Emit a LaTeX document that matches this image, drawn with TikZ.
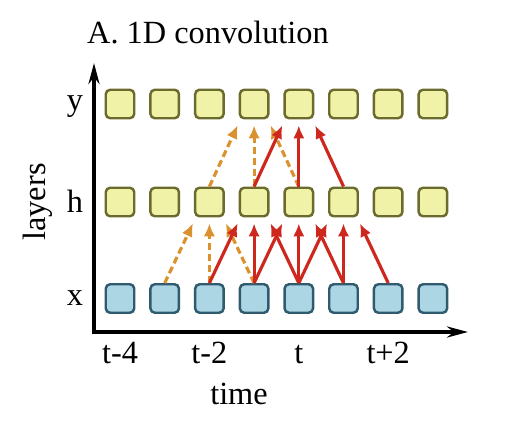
\documentclass[tikz,border=0pt]{standalone}
\usepackage{fontspec}
\setmainfont{Liberation Serif}
\usepackage{xcolor}
\usetikzlibrary{arrows.meta}

\definecolor{hfill}{RGB}{240,242,168}
\definecolor{hdraw}{RGB}{107,107,46}
\definecolor{xfill}{RGB}{173,214,229}
\definecolor{xdraw}{RGB}{48,90,110}
\definecolor{convred}{RGB}{206,40,30}
\definecolor{convorange}{RGB}{218,145,46}

\begin{document}
\begin{tikzpicture}[
    unit/.style={draw=hdraw, fill=hfill, line width=1.4pt, rounded corners=2.5pt, minimum size=0.57cm, inner sep=0pt},
    inunit/.style={unit, draw=xdraw, fill=xfill},
    lbl/.style={font=\fontsize{18.4}{22}\selectfont},
    axis/.style={line width=2.2pt, {Stealth[length=4.2mm,width=2.2mm]}-{Stealth[length=4.2mm,width=2.2mm]}},
    conv/.style={convred, line width=1.8pt, -{Latex[length=2.6mm,width=2.3mm]}},
    past/.style={convorange, line width=1.8pt, dash pattern=on 4pt off 2.2pt, -{Latex[length=2.6mm,width=2.3mm]}},
]
\useasboundingbox (0,0) rectangle (10.22,8.42);

% Title
\node[lbl, anchor=base west] (title) at (1.62, 7.55) {A. 1D convolution};

% Axes
\coordinate (ytop) at (1.88, 7.16);
\coordinate (origin) at (1.88, 1.78);
\coordinate (xend) at (9.36, 1.78);
\draw[axis] (ytop) -- (origin) -- (xend);

% Axis labels
\node[lbl, rotate=90] (layers) at (0.76, 4.38) {layers};
\node[lbl, anchor=base] (time) at (4.78, 0.34) {time};

% Layer labels
\node[lbl, anchor=base] (ylab) at (1.5, 6.22) {y};
\node[lbl, anchor=base] (hlab) at (1.5, 4.18) {h};
\node[lbl, anchor=base] (xlab) at (1.5, 2.32) {x};

% Units
\foreach \i in {0,...,7} {
    \node[unit] (y\i) at (2.4+0.894*\i, 6.34) {};
    \node[unit] (h\i) at (2.4+0.894*\i, 4.38) {};
    \node[inunit] (x\i) at (2.4+0.894*\i, 2.45) {};
}

% Time ticks
\node[lbl, anchor=base] (t0) at (x0 |- 0,1.16) {t-4};
\node[lbl, anchor=base] (t2) at (x2 |- 0,1.16) {t-2};
\node[lbl, anchor=base] (t4) at (x4 |- 0,1.16) {t};
\node[lbl, anchor=base] (t6) at (x6 |- 0,1.16) {t+2};

% Past inputs (dashed)
\draw[past] (x1.north) -- ([xshift=-0.33cm, yshift=-0.12cm]h2.south);
\draw[past] (x2.north) -- ([yshift=-0.12cm]h2.south);
\draw[past] (x3.north) -- ([xshift=0.33cm, yshift=-0.12cm]h2.south);
\draw[past] (h2.north) -- ([xshift=-0.33cm, yshift=-0.12cm]y3.south);
\draw[past] (h3.north) -- ([yshift=-0.12cm]y3.south);
\draw[past] (h4.north) -- ([xshift=0.33cm, yshift=-0.12cm]y3.south);

% Receptive field of y at t
\draw[conv] (x2.north) -- ([xshift=-0.33cm, yshift=-0.12cm]h3.south);
\draw[conv] (x3.north) -- ([yshift=-0.12cm]h3.south);
\draw[conv] (x4.north) -- ([xshift=0.33cm, yshift=-0.12cm]h3.south);
\draw[conv] (x3.north) -- ([xshift=-0.33cm, yshift=-0.12cm]h4.south);
\draw[conv] (x4.north) -- ([yshift=-0.12cm]h4.south);
\draw[conv] (x5.north) -- ([xshift=0.33cm, yshift=-0.12cm]h4.south);
\draw[conv] (x4.north) -- ([xshift=-0.33cm, yshift=-0.12cm]h5.south);
\draw[conv] (x5.north) -- ([yshift=-0.12cm]h5.south);
\draw[conv] (x6.north) -- ([xshift=0.33cm, yshift=-0.12cm]h5.south);
\draw[conv] (h3.north) -- ([xshift=-0.33cm, yshift=-0.12cm]y4.south);
\draw[conv] (h4.north) -- ([yshift=-0.12cm]y4.south);
\draw[conv] (h5.north) -- ([xshift=0.33cm, yshift=-0.12cm]y4.south);

\end{tikzpicture}
\end{document}
